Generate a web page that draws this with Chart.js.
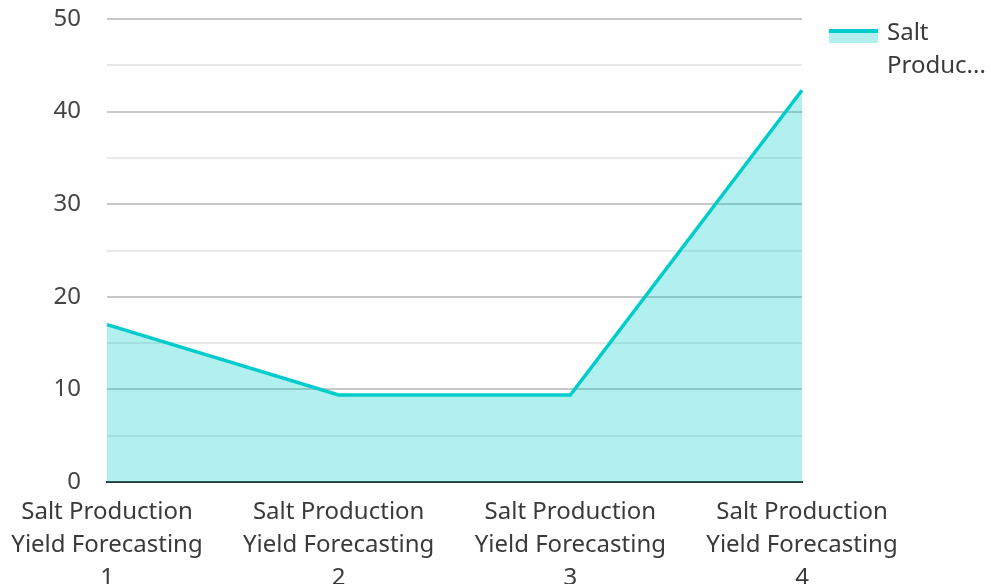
<!DOCTYPE html>
<html>
<head>
<meta charset="utf-8">
<script src="https://cdn.jsdelivr.net/npm/chart.js@4/dist/chart.umd.min.js"></script>
<style>
html,body{margin:0;padding:0;background:#fff;}
#wrap{width:991px;height:584px;position:relative;}
</style>
</head>
<body>
<div id="wrap"><canvas id="c"></canvas></div>
<script>
const categories = [
  ['Salt Production', 'Yield Forecasting', '1'],
  ['Salt Production', 'Yield Forecasting', '2'],
  ['Salt Production', 'Yield Forecasting', '3'],
  ['Salt Production', 'Yield Forecasting', '4']
];
const seriesName = 'Salt Production Yield Forecasting';
const seriesValues = [17, 9.4, 9.4, 42.3];
const legendLines = ['Salt', 'Produc...'];
const yMin = 0, yMax = 50, yStep = 5;

const FONT = '"Noto Sans", sans-serif';
const TEXT = '#3a3a3a';
const LINE = 'rgb(0,204,204)';
const FILL = 'rgba(0,204,204,0.3)';

const legendPlugin = {
  id: 'customLegend',
  afterDraw(chart) {
    const ctx = chart.ctx;
    const x0 = 829, w = 49, y0 = 29;
    ctx.save();
    ctx.fillStyle = FILL;
    ctx.fillRect(x0, y0 + 2, w, 12);
    ctx.fillStyle = LINE;
    ctx.fillRect(x0, y0, w, 4);
    ctx.fillStyle = TEXT;
    ctx.font = '24px ' + FONT;
    ctx.textBaseline = 'middle';
    ctx.textAlign = 'left';
    legendLines.forEach((t, i) => ctx.fillText(t, 887, 33 + i * 33));
    ctx.restore();
  }
};

new Chart(document.getElementById('c'), {
  type: 'line',
  data: {
    labels: categories,
    datasets: [{
      label: seriesName,
      data: seriesValues,
      borderColor: LINE,
      backgroundColor: FILL,
      borderWidth: 3.5,
      fill: 'origin',
      tension: 0,
      pointRadius: 0,
      pointHoverRadius: 0
    }]
  },
  options: {
    responsive: true,
    maintainAspectRatio: false,
    animation: false,
    layout: { padding: { top: 19, right: 189, left: 0, bottom: 0 } },
    plugins: { legend: { display: false }, tooltip: { enabled: false } },
    scales: {
      x: {
        offset: false,
        grid: { display: false, drawTicks: false },
        border: { display: true, color: '#333333', width: 2 },
        ticks: {
          color: TEXT,
          font: { family: FONT, size: 24, lineHeight: 1.375 },
          padding: 14,
          maxRotation: 0,
          autoSkip: false
        },
        afterFit(scale) {
          scale.height = 102;
          scale.paddingLeft = 0; scale.paddingRight = 0;
          scale.paddingTop = 0; scale.paddingBottom = 0;
        }
      },
      y: {
        min: yMin, max: yMax,
        border: { display: false },
        grid: {
          drawTicks: false,
          color: ctx => (ctx.tick && ctx.tick.value === 0) ? 'rgba(0,0,0,0)' : (ctx.tick && ctx.tick.value % 10 === 0 ? '#c8c8c8' : '#e8e8e8'),
          lineWidth: 2
        },
        ticks: {
          stepSize: yStep,
          color: '#444444',
          font: { family: FONT, size: 24 },
          padding: 26,
          callback: v => (v % 10 === 0 ? String(v) : '')
        },
        afterFit(scale) {
          scale.width = 107;
          scale.paddingTop = 0; scale.paddingBottom = 0;
          scale.paddingLeft = 0; scale.paddingRight = 0;
        }
      }
    }
  },
  plugins: [legendPlugin]
});
</script>
</body>
</html>
